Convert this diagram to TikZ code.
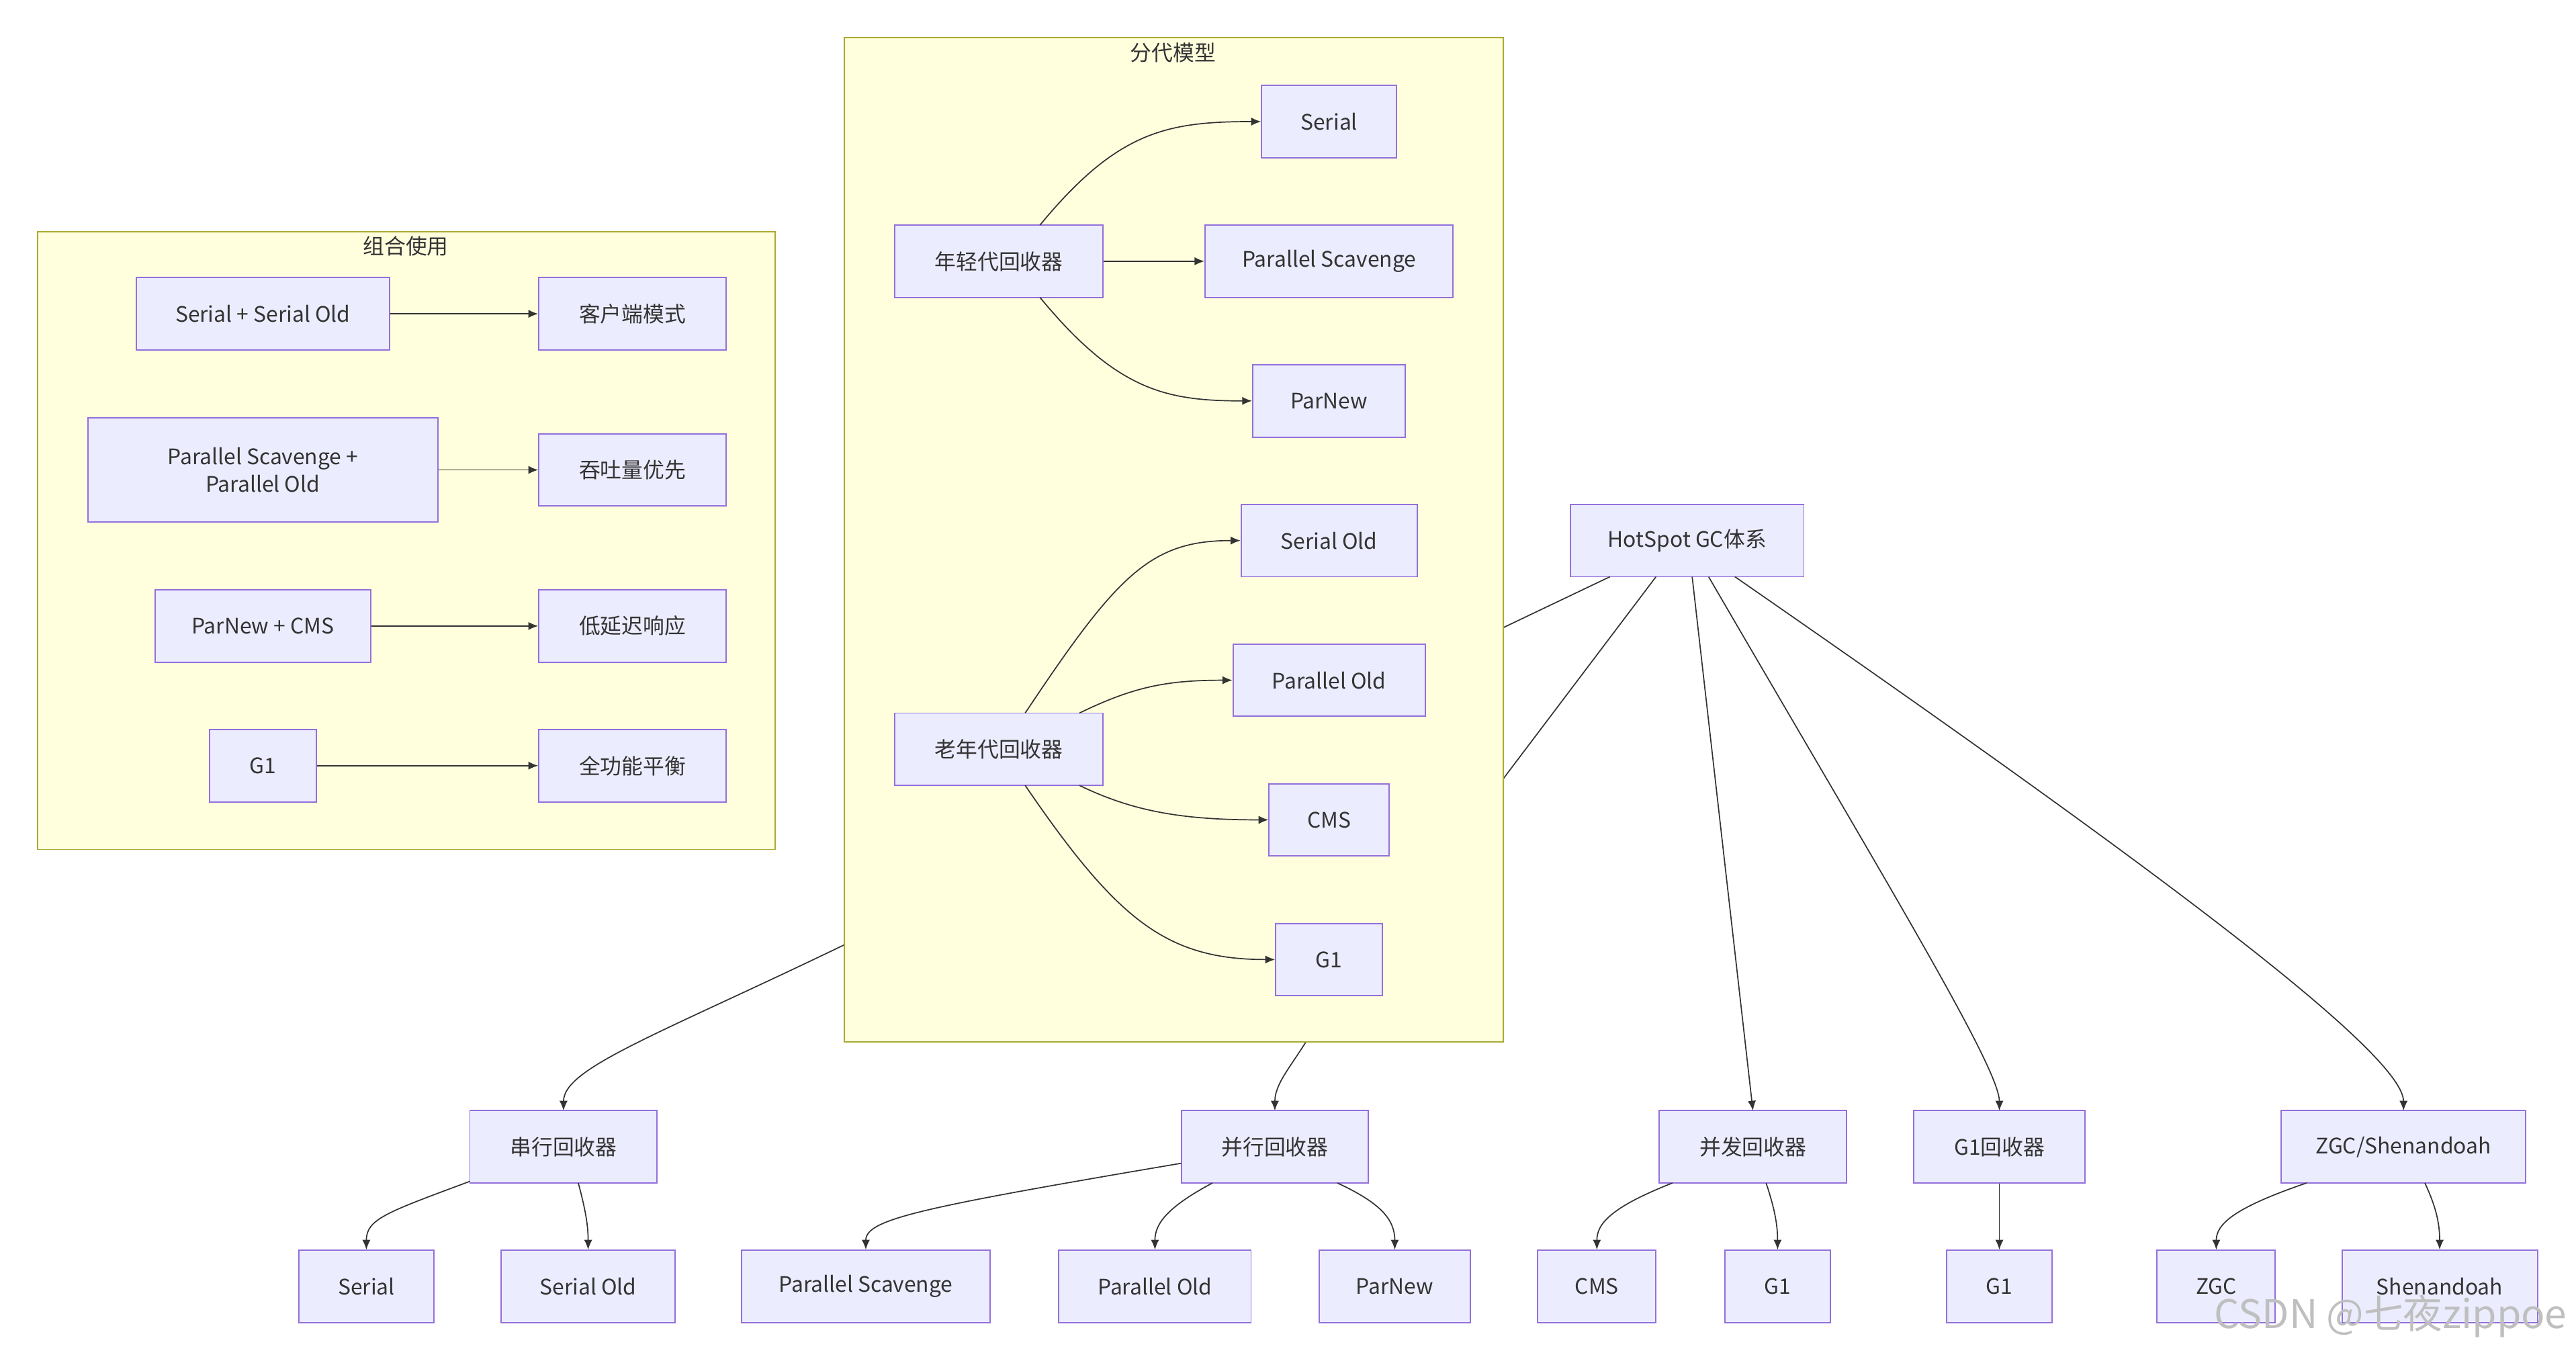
\documentclass[tikz,border=0pt]{standalone}
\usepackage{fontspec}
\setmainfont{Noto Sans CJK SC}
\usetikzlibrary{arrows.meta}
\definecolor{nfill}  {RGB}{236,236,255}
\definecolor{nline}  {RGB}{147,112,219}
\definecolor{cfill}  {RGB}{255,255,222}
\definecolor{cline}  {RGB}{170,170,51}
\definecolor{eline}  {RGB}{51,51,51}
\tikzset{
    box/.style={draw=nline, fill=nfill, line width=0.8pt, minimum height=44pt,
                inner sep=0pt, align=center, font=\fontsize{13}{17}\selectfont, text=eline},
    grp/.style={draw=cline, fill=cfill, line width=0.8pt},
    grplabel/.style={font=\fontsize{13}{17}\selectfont, text=eline},
    edge/.style={draw=eline, line width=0.7pt, -{Latex[length=6pt,width=5pt]}},
    link/.style={draw=eline, line width=0.7pt}
  }
\begin{document}
\begin{tikzpicture}[x=1pt,y=-1pt]
 \useasboundingbox (0,0) rectangle (1568,828);
 % root node
     \node[box, minimum width=142pt] (hot) at (1027,329) {HotSpot GC体系};
 % edges that run behind the 分代模型 group
     \coordinate (a1) at (915,382);
     \coordinate (a2) at (514,575);
     \coordinate (b1) at (915,474);
     \coordinate (b2) at (795,634);
     \draw[link] (980,351) -- (a1);
     \draw[edge] (a2) .. controls (400,630) and (343,650) .. (343,676);
     \draw[link] (1008,351) -- (b1);
     \draw[edge] (b2) .. controls (785,650) and (776,660) .. (776,676);
 % group 组合使用
     \draw[grp] (23,141) rectangle (472,517);
     \node[grplabel] (lab1) at (247,150) {组合使用};
     \node[box, minimum width=154pt] (c1) at (160,191) {Serial + Serial Old};
     \node[box, minimum width=114pt] (d1) at (385,191) {客户端模式};
     \node[box, minimum width=213pt, minimum height=63pt] (c2) at (160,286) {Parallel Scavenge +\\Parallel Old};
     \node[box, minimum width=114pt] (d2) at (385,286) {吞吐量优先};
     \node[box, minimum width=131pt] (c3) at (160,381) {ParNew + CMS};
     \node[box, minimum width=114pt] (d3) at (385,381) {低延迟响应};
     \node[box, minimum width=65pt] (c4) at (160,466) {G1};
     \node[box, minimum width=114pt] (d4) at (385,466) {全功能平衡};
     \foreach \i in {1,...,4}
       \draw[edge] (c\i) -- (d\i);
 % group 分代模型
     \draw[grp] (514,23) rectangle (915,634);
     \node[grplabel] (lab2) at (714,32) {分代模型};
     \node[box, minimum width=127pt] (young) at (608,159) {年轻代回收器};
     \node[box, minimum width=82pt] (ys) at (809,74) {Serial};
     \node[box, minimum width=151pt] (yp) at (809,159) {Parallel Scavenge};
     \node[box, minimum width=93pt] (yn) at (809,244) {ParNew};
     \node[box, minimum width=127pt] (old) at (608,456) {老年代回收器};
     \node[box, minimum width=107pt] (os) at (809,329) {Serial Old};
     \node[box, minimum width=117pt] (op) at (809,414) {Parallel Old};
     \node[box, minimum width=73pt] (oc) at (809,499) {CMS};
     \node[box, minimum width=65pt] (og) at (809,584) {G1};
     \draw[edge] (633,137) .. controls (680,80) and (710,74) .. (ys.west);
     \draw[edge] (young) -- (yp);
     \draw[edge] (633,181) .. controls (680,238) and (710,244) .. (yn.west);
     \draw[edge] (624,434) .. controls (680,350) and (700,329) .. (os.west);
     \draw[edge] (657,434) .. controls (690,418) and (710,414) .. (op.west);
     \draw[edge] (657,478) .. controls (690,494) and (720,499) .. (oc.west);
     \draw[edge] (624,478) .. controls (680,560) and (710,584) .. (og.west);
 % second level
     \node[box, minimum width=114pt] (ser) at (343,698) {串行回收器};
     \node[box, minimum width=114pt] (par) at (776,698) {并行回收器};
     \node[box, minimum width=114pt] (con) at (1067,698) {并发回收器};
     \node[box, minimum width=104pt] (gone) at (1217,698) {G1回收器};
     \node[box, minimum width=149pt] (zgc) at (1463,698) {ZGC/Shenandoah};
     \draw[edge] (1030,351) -- (1067,676);
     \draw[edge] (1040,351) .. controls (1150,540) and (1217,650) .. (1217,676);
     \draw[edge] (1056,351) .. controls (1300,520) and (1463,640) .. (1463,676);
 % leaves
     \node[box, minimum width=82pt] (l1) at (223,783) {Serial};
     \node[box, minimum width=106pt] (l2) at (358,783) {Serial Old};
     \node[box, minimum width=151pt] (l3) at (527,783) {Parallel Scavenge};
     \node[box, minimum width=117pt] (l4) at (703,783) {Parallel Old};
     \node[box, minimum width=92pt] (l5) at (849,783) {ParNew};
     \node[box, minimum width=72pt] (l6) at (972,783) {CMS};
     \node[box, minimum width=64pt] (l7) at (1082,783) {G1};
     \node[box, minimum width=64pt] (l8) at (1217,783) {G1};
     \node[box, minimum width=72pt] (l9) at (1349,783) {ZGC};
     \node[box, minimum width=119pt] (l10) at (1485,783) {Shenandoah};
     \draw[edge] (286,719) .. controls (235,738) and (223,742) .. (l1.north);
     \draw[edge] (352,720) .. controls (356,735) and (358,745) .. (l2.north);
     \draw[edge] (719,708) .. controls (560,735) and (527,742) .. (l3.north);
     \draw[edge] (738,720) .. controls (710,735) and (703,745) .. (l4.north);
     \draw[edge] (814,720) .. controls (840,732) and (849,742) .. (l5.north);
     \draw[edge] (1018,720) .. controls (980,735) and (972,745) .. (l6.north);
     \draw[edge] (1075,720) .. controls (1080,735) and (1082,745) .. (l7.north);
     \draw[edge] (gone) -- (l8);
     \draw[edge] (1404,720) .. controls (1360,735) and (1349,745) .. (l9.north);
     \draw[edge] (1476,720) .. controls (1483,735) and (1485,745) .. (l10.north);
 % watermark
     \node[text=black!25, font=\fontsize{24}{28}\selectfont, anchor=east] (wm) at (1566,801) {CSDN @七夜zippoe};
\end{tikzpicture}
\end{document}
